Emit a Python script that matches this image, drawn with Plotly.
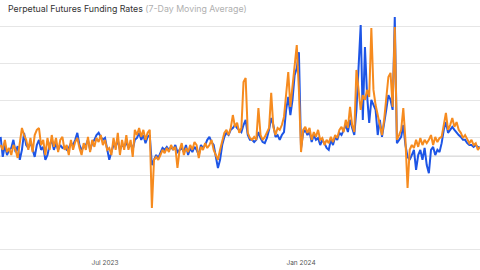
import plotly.graph_objects as go
import pandas as pd

# Funding rate, 7-day moving average (units of 0.01%), sampled every 2 days
start_date = "2023-03-25"
step_days = 2

orange_vals = [
0.81,0.68,0.95,0.62,0.73,0.54,0.81,0.68,0.46,0.95,
1.27,1.08,0.95,0.68,1.00,0.62,1.08,1.22,1.27,0.81,
0.95,0.54,1.00,0.68,1.08,0.76,1.00,0.62,0.95,1.03,
0.68,0.81,0.54,0.95,0.68,0.89,1.00,0.73,0.54,0.86,
0.68,1.03,0.62,0.95,0.76,1.00,0.89,1.08,0.81,0.95,
0.68,0.73,0.54,1.00,0.68,1.14,0.54,0.95,0.68,1.08,
0.68,0.95,0.49,1.22,1.08,1.27,1.03,1.22,0.95,1.14,
1.22,-0.89,0.41,0.49,0.41,0.54,0.68,0.59,0.73,0.62,
0.81,0.68,0.76,0.19,0.68,0.86,0.54,0.73,0.62,0.81,
0.68,0.89,0.81,0.46,0.76,0.68,0.86,0.73,0.81,0.95,
0.68,0.54,0.41,0.68,0.95,1.14,1.22,1.08,1.27,1.62,
1.30,1.41,1.14,1.27,2.51,2.62,1.14,1.00,0.95,1.03,
0.95,1.81,1.08,0.95,1.03,1.16,1.27,2.22,1.30,1.08,
1.27,1.22,1.35,1.57,2.30,2.78,1.84,2.43,3.11,3.51,
2.30,0.62,1.22,1.30,1.14,1.27,0.95,1.16,1.03,1.22,
0.95,1.00,0.81,0.95,0.86,1.03,0.89,1.08,1.00,1.22,
1.30,1.16,1.49,1.27,1.84,1.35,1.16,2.84,2.30,1.76,
2.16,2.03,2.30,2.11,3.97,2.30,1.89,1.62,1.35,1.08,
1.49,2.03,2.65,2.76,1.84,4.00,0.95,1.08,1.22,1.81,
0.95,-0.35,0.68,0.81,0.73,0.95,0.76,1.00,0.81,0.95,
0.86,0.95,1.08,0.81,1.03,0.89,1.00,1.03,1.35,1.68,
1.22,1.35,1.54,1.30,1.43,1.22,1.14,1.00,1.08,0.95,
0.86,0.95,0.81,0.86,0.68,0.76]

blue_vals = [
1.03,0.49,0.81,0.54,0.68,0.73,0.95,0.62,0.78,0.41,
0.68,1.14,0.81,0.73,0.89,0.68,0.49,0.81,0.95,0.68,
0.76,0.41,0.54,0.81,0.95,0.68,0.86,0.68,0.81,0.73,
0.76,0.68,0.73,0.86,0.81,0.95,1.14,0.81,0.68,0.76,
0.81,0.95,0.68,0.86,0.95,1.08,1.14,1.03,0.95,1.00,
0.68,0.41,0.62,0.81,0.76,0.95,0.68,0.81,0.76,0.89,
0.73,0.86,0.68,0.95,1.00,1.14,0.95,1.08,0.86,1.03,
1.08,0.27,0.41,0.54,0.46,0.59,0.73,0.68,0.76,0.68,
0.76,0.68,0.81,0.62,0.68,0.73,0.62,0.81,0.54,0.73,
0.62,0.76,0.68,0.54,0.81,0.73,0.81,0.95,1.03,0.89,
0.81,0.46,0.19,0.41,0.81,1.03,1.14,1.08,1.22,1.27,
1.35,1.27,1.22,1.16,1.35,1.49,1.08,0.95,0.95,0.89,
0.95,1.16,1.00,0.89,0.86,1.00,1.22,1.54,1.35,1.03,
1.08,0.95,1.08,1.16,1.76,2.11,1.62,2.03,2.70,2.89,
3.32,0.73,1.14,1.22,1.08,1.16,0.89,1.08,0.95,1.00,
0.81,0.95,0.86,0.73,0.68,0.95,0.81,1.03,0.95,1.14,
1.08,1.22,1.35,1.16,1.49,1.27,1.08,1.76,3.11,4.05,
1.49,3.46,2.16,1.41,2.03,1.89,1.76,1.08,1.49,1.03,
1.35,1.76,2.16,2.03,1.76,4.27,0.86,0.95,1.03,1.35,
0.81,0.49,0.41,0.54,0.68,0.14,0.54,0.68,0.41,0.73,
0.27,0.05,0.68,0.76,0.54,0.68,0.62,0.86,1.22,1.43,
1.14,1.22,1.30,1.22,1.14,1.08,1.03,0.95,0.95,0.86,
0.81,0.81,0.76,0.81,0.76,0.73]

tick_vals = ["2023-07-01", "2024-01-01"]
tick_text = ["Jul 2023", "Jan 2024"]
ref_level = 0.51

dates = pd.date_range(start_date, periods=len(orange_vals), freq=f"{step_days}D")

BLUE = "#1d55e6"
ORANGE = "#f68b1f"

fig = go.Figure()
fig.add_trace(go.Scatter(x=dates, y=blue_vals, mode="lines",
                         line=dict(color=BLUE, width=2), showlegend=False))
fig.add_trace(go.Scatter(x=dates, y=orange_vals, mode="lines",
                         line=dict(color=ORANGE, width=2), showlegend=False))

fig.add_shape(type="line", xref="paper", x0=0, x1=1, yref="y", y0=ref_level, y1=ref_level,
              line=dict(color="#cdcdcd", width=1), layer="below")

fig.update_layout(
    width=480, height=270,
    margin=dict(l=0, r=0, t=12, b=18),
    paper_bgcolor="white", plot_bgcolor="white",
    font=dict(family="Inter, sans-serif", color="#444"),
    title=dict(
        text="Perpetual Futures Funding Rates <span style='color:#b0b0b0'>(7-Day Moving Average)</span>",
        x=8/480, xanchor="left", xref="paper",
        y=1 - 9/270, yanchor="middle", yref="container",
        font=dict(size=8.8, color="#333", family="Inter, sans-serif"),
    ),
    xaxis=dict(
        range=["2023-03-24 10:00", "2024-06-17"],
        tickvals=tick_vals, ticktext=tick_text,
        showgrid=False, zeroline=False, showline=False,
        ticks="outside", ticklen=4, tickcolor="rgba(0,0,0,0)",
        tickfont=dict(size=6.5, color="#555"),
    ),
    yaxis=dict(
        range=[-2.081, 4.405],
        tick0=0, dtick=1,
        showticklabels=False, showgrid=True, gridcolor="#e6e6e6", gridwidth=1,
        zeroline=False, showline=False, ticks="",
    ),
)

fig.write_html("out.html")
